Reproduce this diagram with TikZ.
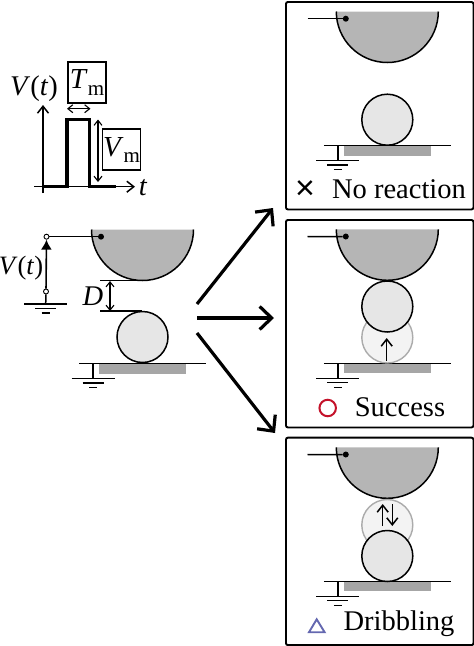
\documentclass[tikz,border=0pt]{standalone}
\usepackage{fontspec}
\setmainfont{Liberation Serif}
\newfontfamily\marksans{Liberation Sans}
\usetikzlibrary{arrows.meta}
\definecolor{electrodegray}{HTML}{B5B5B5}
\definecolor{ballgray}{HTML}{E6E6E6}
\definecolor{stagegray}{HTML}{A6A6A6}
\definecolor{ghostgray}{HTML}{F3F3F3}
\definecolor{ghostline}{HTML}{ABABAB}
\definecolor{okred}{HTML}{C4122A}
\definecolor{dribbleblue}{HTML}{6468B0}
\newcommand{\subm}{\raisebox{-0.22em}{\fontsize{21}{21}\selectfont m}}
\tikzset{
    ball/.style={draw, circle, line width=1.5pt, fill=ballgray, minimum size=51pt, inner sep=0pt},
    ghost/.style={draw=ghostline, circle, line width=1.4pt, fill=ghostgray, minimum size=51pt, inner sep=0pt},
    panel/.style={draw, line width=1.9pt, rounded corners=2pt, anchor=north west, inner sep=0pt, minimum width=187.5pt},
    port/.style={draw, circle, fill=white, line width=0.9pt, minimum size=5pt, inner sep=0pt},
    dotnode/.style={circle, fill=black, minimum size=6pt, inner sep=0pt},
    valuebox/.style={draw, line width=1.5pt, inner sep=0pt, font=\fontsize{29}{30}\selectfont},
    label/.style={inner sep=0pt, font=\fontsize{28.5}{30}\selectfont},
    thinarrow/.style={line width=1.1pt, {Straight Barb[length=5pt,width=8pt]}-{Straight Barb[length=5pt,width=8pt]}},
    onearrow/.style={line width=1.5pt, -{Straight Barb[length=7pt,width=11pt]}},
    bigarrow/.style={line width=3.2pt, -{Straight Barb[length=12pt,width=23pt]}},
    ground/.pic={
        \draw[line width=1.5pt] (-21.5,0) -- (21.5,0);
        \draw[line width=1.5pt] (-10.5,4.3) -- (10.5,4.3);
        \draw[line width=1.5pt] (-4,9) -- (4,9);
    },
    rig/.pic={
        \path[draw, fill=electrodegray, line width=1.5pt] (-51,0) arc[start angle=180, end angle=360, radius=51pt];
        \fill[stagegray] (-43.5,134.5) rectangle (43.5,144);
        \draw[line width=1.5pt] (-63.5,134.2) -- (63.5,134.2);
        \draw[line width=1.5pt] (-49.5,134.2) -- (-49.5,149);
        \pic at (-49.5,149) {ground};
        \node[dotnode] (-tip) at (-41.5,7.2) {};
    }
}
\begin{document}
\begin{tikzpicture}[x=1pt, y=-1pt]
    \useasboundingbox (0,0) rectangle (474,646);

    \node[panel, minimum height=207.5pt] (boxa) at (285,1) {};
    \node[panel, minimum height=207.5pt] (boxb) at (285,219) {};
    \node[panel, minimum height=207.5pt] (boxc) at (285,436.7) {};

    \coordinate (ybot) at (43,193);
    \coordinate (ytop) at (43,105);
    \coordinate (xleft) at (34,186.7);
    \coordinate (xright) at (135,186.7);
    \draw[onearrow] (ybot) -- (ytop);
    \draw[onearrow] (xleft) -- (xright);
    \coordinate (pa) at (44,186.7);
    \coordinate (pb) at (67,186.7);
    \coordinate (pc) at (67,119.3);
    \coordinate (pd) at (89.5,119.3);
    \coordinate (pe) at (89.5,186.7);
    \coordinate (pf) at (116,186.7);
    \draw[line width=3.2pt, line join=miter] (pa) -- (pb) -- (pc) -- (pd) -- (pe) -- (pf);
    \coordinate (tml) at (67,108.7);
    \coordinate (tmr) at (90.5,108.7);
    \draw[thinarrow] (tml) -- (tmr);
    \coordinate (vmt) at (98,119.5);
    \coordinate (vmb) at (98,182);
    \draw[thinarrow] (vmt) -- (vmb);
    \node[valuebox, minimum width=38pt, minimum height=41pt] (tmbox) at (87,82.5) {\textit{T}\subm};
    \node[valuebox, minimum width=38pt, minimum height=41pt] (vmbox) at (121.5,149.7) {\textit{V}\subm};
    \node[label] (vlabel) at (34,89) {\textit{V}(\textit{t})};
    \node[label] (tlabel) at (143,188) {\textit{t}};

    \pic (main) at (142.5,229.5) {rig};
    \node[ball] (mainball) at (142.5,337) {};
    \node[port] (portt) at (46.5,236.7) {};
    \node[port] (portb) at (46,291.5) {};
    \draw[line width=1.5pt] (portt) -- (main-tip);
    \draw[line width=1.6pt, -{Latex[length=10pt,width=11pt]}] (portb) -- (portt);
    \coordinate (gnd) at (45.7,304);
    \draw[line width=1.5pt] (portb) -- (gnd);
    \pic at (gnd) {ground};
    \node[label, font=\fontsize{26.5}{30}\selectfont] (vtlabel) at (21,268) {\textit{V}(\textit{t})};
    \coordinate (gapal) at (100,280.8);
    \coordinate (gapar) at (142,280.8);
    \coordinate (gapbl) at (100,311);
    \coordinate (gapbr) at (142,311);
    \draw[line width=1.1pt] (gapal) -- (gapar);
    \draw[line width=1.1pt] (gapbl) -- (gapbr);
    \coordinate (gapt) at (110,281);
    \coordinate (gapb) at (110,311);
    \draw[thinarrow] (gapt) -- (gapb);
    \node[label] (dlabel) at (93,296) {\textit{D}};

    \coordinate (fromup) at (197,304);
    \coordinate (toup) at (273,208);
    \coordinate (frommid) at (197,318);
    \coordinate (tomid) at (274,318);
    \coordinate (fromdown) at (197,333);
    \coordinate (todown) at (275,433);
    \draw[bigarrow] (fromup) -- (toup);
    \draw[bigarrow] (frommid) -- (tomid);
    \draw[bigarrow] (fromdown) -- (todown);

    \pic (one) at (387.3,11.5) {rig};
    \node[ball] (oneball) at (387.3,119.7) {};
    \coordinate (onelead) at (307.5,18.7);
    \draw[line width=1.5pt] (onelead) -- (one-tip);
    \node[label, font=\marksans\fontsize{34}{34}\selectfont] (cross) at (305,190.5) {×};
    \node[label] (nolabel) at (399,189) {No reaction};

    \pic (two) at (387.3,229.3) {rig};
    \node[ghost] (twoghost) at (387.3,337.5) {};
    \node[ball] (twoball) at (387.3,306.5) {};
    \coordinate (twolead) at (307.5,236.7);
    \draw[line width=1.5pt] (twolead) -- (two-tip);
    \coordinate (twofrom) at (386.7,361);
    \coordinate (twoto) at (386.7,338);
    \draw[onearrow] (twofrom) -- (twoto);
    \node[draw=okred, circle, line width=2pt, minimum size=16.5pt, inner sep=0pt] (okmark) at (327.7,408) {};
    \node[label] (oklabel) at (400,407) {Success};

    \pic (three) at (387.3,447.3) {rig};
    \node[ghost] (threeghost) at (387.3,525) {};
    \node[ball] (threeball) at (387.3,556) {};
    \coordinate (threelead) at (307.5,454.7);
    \draw[line width=1.5pt] (threelead) -- (three-tip);
    \coordinate (upfrom) at (382.7,526);
    \coordinate (upto) at (382.7,504);
    \coordinate (downfrom) at (392.3,504);
    \coordinate (downto) at (392.3,526);
    \draw[onearrow] (upfrom) -- (upto);
    \draw[onearrow] (downfrom) -- (downto);
    \coordinate (tria) at (316.7,619.3);
    \coordinate (trib) at (309,632.2);
    \coordinate (tric) at (324.6,632.2);
    \draw[dribbleblue, line width=1.9pt, line join=miter] (tria) -- (trib) -- (tric) -- cycle;
    \node[label] (drlabel) at (399,624) {Dribbling};
\end{tikzpicture}
\end{document}
